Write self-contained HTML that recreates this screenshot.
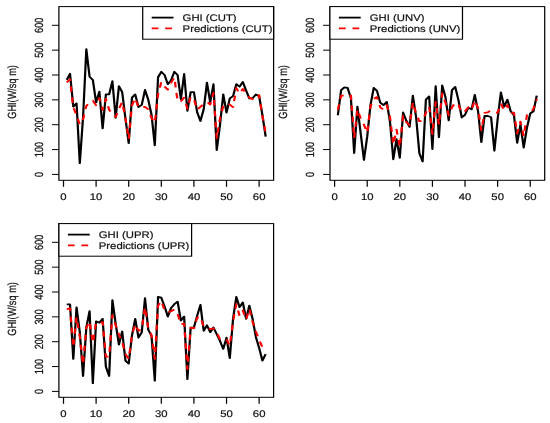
<!DOCTYPE html>
<html><head><meta charset="utf-8"><style>
html,body{margin:0;padding:0;background:#fff;}
svg{display:block;}
text{text-rendering:geometricPrecision;font-family:"Liberation Sans",Arial,sans-serif;font-size:9.6px;fill:#111;stroke:#111;stroke-width:0.2px;}
</style></head><body>
<svg width="550" height="423" viewBox="0 0 447.154 423" preserveAspectRatio="none">
<rect x="0" y="0" width="447.154" height="423" fill="#fff"/>
<rect x="47.89" y="6.60" width="174.55" height="173.70" fill="none" stroke="#000" stroke-width="1"/>
<line x1="42.28" y1="174.40" x2="47.89" y2="174.40" stroke="#000" stroke-width="1.0"/>
<text transform="translate(34.63,174.40) rotate(-90) scale(0.958,1)" text-anchor="middle">0</text>
<line x1="42.28" y1="149.55" x2="47.89" y2="149.55" stroke="#000" stroke-width="1.0"/>
<text transform="translate(34.63,149.55) rotate(-90) scale(0.958,1)" text-anchor="middle">100</text>
<line x1="42.28" y1="124.70" x2="47.89" y2="124.70" stroke="#000" stroke-width="1.0"/>
<text transform="translate(34.63,124.70) rotate(-90) scale(0.958,1)" text-anchor="middle">200</text>
<line x1="42.28" y1="99.85" x2="47.89" y2="99.85" stroke="#000" stroke-width="1.0"/>
<text transform="translate(34.63,99.85) rotate(-90) scale(0.958,1)" text-anchor="middle">300</text>
<line x1="42.28" y1="75.00" x2="47.89" y2="75.00" stroke="#000" stroke-width="1.0"/>
<text transform="translate(34.63,75.00) rotate(-90) scale(0.958,1)" text-anchor="middle">400</text>
<line x1="42.28" y1="50.15" x2="47.89" y2="50.15" stroke="#000" stroke-width="1.0"/>
<text transform="translate(34.63,50.15) rotate(-90) scale(0.958,1)" text-anchor="middle">500</text>
<line x1="42.28" y1="25.30" x2="47.89" y2="25.30" stroke="#000" stroke-width="1.0"/>
<text transform="translate(34.63,25.30) rotate(-90) scale(0.958,1)" text-anchor="middle">600</text>
<line x1="51.63" y1="180.30" x2="51.63" y2="186.80" stroke="#000" stroke-width="1.0"/>
<text transform="translate(51.63,199.80) scale(0.958,1)" text-anchor="middle">0</text>
<line x1="78.13" y1="180.30" x2="78.13" y2="186.80" stroke="#000" stroke-width="1.0"/>
<text transform="translate(78.13,199.80) scale(0.958,1)" text-anchor="middle">10</text>
<line x1="104.64" y1="180.30" x2="104.64" y2="186.80" stroke="#000" stroke-width="1.0"/>
<text transform="translate(104.64,199.80) scale(0.958,1)" text-anchor="middle">20</text>
<line x1="131.15" y1="180.30" x2="131.15" y2="186.80" stroke="#000" stroke-width="1.0"/>
<text transform="translate(131.15,199.80) scale(0.958,1)" text-anchor="middle">30</text>
<line x1="157.66" y1="180.30" x2="157.66" y2="186.80" stroke="#000" stroke-width="1.0"/>
<text transform="translate(157.66,199.80) scale(0.958,1)" text-anchor="middle">40</text>
<line x1="184.17" y1="180.30" x2="184.17" y2="186.80" stroke="#000" stroke-width="1.0"/>
<text transform="translate(184.17,199.80) scale(0.958,1)" text-anchor="middle">50</text>
<line x1="210.67" y1="180.30" x2="210.67" y2="186.80" stroke="#000" stroke-width="1.0"/>
<text transform="translate(210.67,199.80) scale(0.958,1)" text-anchor="middle">60</text>
<text transform="translate(13.25,91.95) rotate(-90) scale(0.958,1)" text-anchor="middle">GHI(W/sq m)</text>
<polyline points="54.28,79.97 56.93,73.76 59.58,106.56 62.23,103.33 64.88,163.22 67.53,117.25 70.18,49.16 72.83,76.74 75.48,79.97 78.13,102.34 80.78,91.65 83.44,128.43 86.09,94.38 88.74,94.38 91.39,81.21 94.04,117.74 96.69,86.18 99.34,92.15 101.99,118.49 104.64,143.09 107.29,97.61 109.94,94.38 112.59,107.06 115.25,104.82 117.90,89.91 120.55,99.85 123.20,114.76 125.85,145.33 128.50,77.24 131.15,71.77 133.80,75.00 136.45,84.19 139.10,80.22 141.75,71.77 144.40,75.00 147.06,99.10 149.71,74.01 152.36,110.78 155.01,92.15 157.66,92.15 160.31,112.28 162.96,120.97 165.61,109.29 168.26,82.70 170.91,102.34 173.56,84.19 176.21,150.05 178.87,124.70 181.52,94.38 184.17,112.52 186.82,98.36 189.47,96.12 192.12,84.19 194.77,86.68 197.42,81.96 200.07,90.41 202.72,98.36 205.37,98.36 208.02,94.38 210.67,96.12 213.33,114.76 215.98,136.63" fill="none" stroke="#000" stroke-width="1.8" stroke-linejoin="round"/>
<polyline points="54.28,82.46 56.93,79.47 59.58,107.31 62.23,115.26 64.88,124.45 67.53,119.23 70.18,106.06 72.83,102.09 75.48,100.60 78.13,105.32 80.78,98.11 83.44,109.79 86.09,98.86 88.74,109.79 91.39,113.77 94.04,117.00 96.69,109.04 99.34,102.09 101.99,118.49 104.64,139.11 107.29,105.32 109.94,98.11 112.59,107.55 115.25,107.31 117.90,106.81 120.55,109.29 123.20,117.99 125.85,122.71 128.50,94.38 131.15,81.96 133.80,86.68 136.45,89.66 139.10,82.70 141.75,77.48 144.40,101.34 147.06,101.34 149.71,97.61 152.36,108.55 155.01,96.62 157.66,99.10 160.31,109.79 162.96,106.81 165.61,103.83 168.26,101.84 170.91,104.57 173.56,92.89 176.21,138.37 178.87,118.49 181.52,106.06 184.17,103.08 186.82,104.57 189.47,107.06 192.12,88.17 194.77,93.64 197.42,88.92 200.07,93.64 202.72,97.61 205.37,99.10 208.02,99.85 210.67,95.13 213.33,116.25 215.98,132.90" fill="none" stroke="#f00" stroke-width="1.8" stroke-dasharray="5.5 5.5" stroke-linejoin="round"/>
<rect x="116.02" y="6.60" width="106.42" height="32.60" fill="#fff" stroke="#000" stroke-width="1"/>
<line x1="123.33" y1="17.60" x2="141.06" y2="17.60" stroke="#000" stroke-width="1.8"/>
<line x1="123.33" y1="28.40" x2="141.06" y2="28.40" stroke="#f00" stroke-width="1.8" stroke-dasharray="5.5 5.5"/>
<text transform="translate(148.46,21.20) scale(0.958,1)" text-anchor="start">GHI (CUT)</text>
<text transform="translate(148.46,32.00) scale(0.958,1)" text-anchor="start">Predictions (CUT)</text>
<rect x="268.29" y="6.60" width="174.55" height="173.70" fill="none" stroke="#000" stroke-width="1"/>
<line x1="262.68" y1="174.40" x2="268.29" y2="174.40" stroke="#000" stroke-width="1.0"/>
<text transform="translate(255.04,174.40) rotate(-90) scale(0.958,1)" text-anchor="middle">0</text>
<line x1="262.68" y1="149.55" x2="268.29" y2="149.55" stroke="#000" stroke-width="1.0"/>
<text transform="translate(255.04,149.55) rotate(-90) scale(0.958,1)" text-anchor="middle">100</text>
<line x1="262.68" y1="124.70" x2="268.29" y2="124.70" stroke="#000" stroke-width="1.0"/>
<text transform="translate(255.04,124.70) rotate(-90) scale(0.958,1)" text-anchor="middle">200</text>
<line x1="262.68" y1="99.85" x2="268.29" y2="99.85" stroke="#000" stroke-width="1.0"/>
<text transform="translate(255.04,99.85) rotate(-90) scale(0.958,1)" text-anchor="middle">300</text>
<line x1="262.68" y1="75.00" x2="268.29" y2="75.00" stroke="#000" stroke-width="1.0"/>
<text transform="translate(255.04,75.00) rotate(-90) scale(0.958,1)" text-anchor="middle">400</text>
<line x1="262.68" y1="50.15" x2="268.29" y2="50.15" stroke="#000" stroke-width="1.0"/>
<text transform="translate(255.04,50.15) rotate(-90) scale(0.958,1)" text-anchor="middle">500</text>
<line x1="262.68" y1="25.30" x2="268.29" y2="25.30" stroke="#000" stroke-width="1.0"/>
<text transform="translate(255.04,25.30) rotate(-90) scale(0.958,1)" text-anchor="middle">600</text>
<line x1="272.03" y1="180.30" x2="272.03" y2="186.80" stroke="#000" stroke-width="1.0"/>
<text transform="translate(272.03,199.80) scale(0.958,1)" text-anchor="middle">0</text>
<line x1="298.54" y1="180.30" x2="298.54" y2="186.80" stroke="#000" stroke-width="1.0"/>
<text transform="translate(298.54,199.80) scale(0.958,1)" text-anchor="middle">10</text>
<line x1="325.05" y1="180.30" x2="325.05" y2="186.80" stroke="#000" stroke-width="1.0"/>
<text transform="translate(325.05,199.80) scale(0.958,1)" text-anchor="middle">20</text>
<line x1="351.56" y1="180.30" x2="351.56" y2="186.80" stroke="#000" stroke-width="1.0"/>
<text transform="translate(351.56,199.80) scale(0.958,1)" text-anchor="middle">30</text>
<line x1="378.07" y1="180.30" x2="378.07" y2="186.80" stroke="#000" stroke-width="1.0"/>
<text transform="translate(378.07,199.80) scale(0.958,1)" text-anchor="middle">40</text>
<line x1="404.57" y1="180.30" x2="404.57" y2="186.80" stroke="#000" stroke-width="1.0"/>
<text transform="translate(404.57,199.80) scale(0.958,1)" text-anchor="middle">50</text>
<line x1="431.08" y1="180.30" x2="431.08" y2="186.80" stroke="#000" stroke-width="1.0"/>
<text transform="translate(431.08,199.80) scale(0.958,1)" text-anchor="middle">60</text>
<text transform="translate(233.66,91.95) rotate(-90) scale(0.958,1)" text-anchor="middle">GHI(W/sq m)</text>
<polyline points="274.68,115.26 277.33,90.16 279.98,87.43 282.64,87.92 285.29,98.11 287.94,153.03 290.59,106.56 293.24,133.40 295.89,159.99 298.54,136.63 301.19,105.07 303.84,87.92 306.49,90.90 309.14,102.58 311.79,105.07 314.45,101.84 317.10,122.22 319.75,159.24 322.40,139.11 325.05,157.75 327.70,112.52 330.35,120.72 333.00,126.94 335.65,95.63 338.30,117.25 340.95,153.28 343.60,161.48 346.26,99.60 348.91,96.37 351.56,149.05 354.21,86.18 356.86,137.12 359.51,85.44 362.16,97.12 364.81,120.48 367.46,90.16 370.11,86.93 372.76,100.35 375.41,117.49 378.07,114.76 380.72,107.80 383.37,109.29 386.02,94.88 388.67,111.28 391.32,142.09 393.97,116.00 396.62,116.00 399.27,117.25 401.92,150.79 404.57,119.23 407.22,92.40 409.87,106.56 412.53,99.60 415.18,111.28 417.83,115.26 420.48,142.84 423.13,124.70 425.78,147.56 428.43,127.68 431.08,113.52 433.73,111.28 436.38,95.63" fill="none" stroke="#000" stroke-width="1.8" stroke-linejoin="round"/>
<polyline points="274.68,109.79 277.33,95.63 279.98,95.63 282.64,94.13 285.29,95.63 287.94,138.12 290.59,109.29 293.24,118.49 295.89,124.70 298.54,132.65 301.19,106.56 303.84,98.86 306.49,97.12 309.14,107.31 311.79,109.79 314.45,105.07 317.10,117.00 319.75,144.58 322.40,129.67 325.05,147.06 327.70,116.00 330.35,122.22 333.00,125.20 335.65,102.34 338.30,113.52 340.95,121.22 343.60,120.97 346.26,112.77 348.91,106.56 351.56,134.14 354.21,101.84 356.86,124.70 359.51,93.39 362.16,102.58 364.81,115.26 367.46,107.31 370.11,102.58 372.76,105.07 375.41,112.77 378.07,111.28 380.72,107.31 383.37,109.79 386.02,100.35 388.67,108.05 391.32,130.17 393.97,112.77 396.62,112.28 399.27,110.54 401.92,112.03 404.57,112.77 407.22,103.58 409.87,110.54 412.53,105.07 415.18,112.77 417.83,112.77 420.48,133.40 423.13,121.72 425.78,136.13 428.43,115.01 431.08,113.52 433.73,108.80 436.38,98.86" fill="none" stroke="#f00" stroke-width="1.8" stroke-dasharray="5.5 5.5" stroke-linejoin="round"/>
<rect x="268.21" y="6.60" width="107.80" height="32.60" fill="#fff" stroke="#000" stroke-width="1"/>
<line x1="275.53" y1="17.60" x2="293.25" y2="17.60" stroke="#000" stroke-width="1.8"/>
<line x1="275.53" y1="28.40" x2="293.25" y2="28.40" stroke="#f00" stroke-width="1.8" stroke-dasharray="5.5 5.5"/>
<text transform="translate(300.65,21.20) scale(0.958,1)" text-anchor="start">GHI (UNV)</text>
<text transform="translate(300.65,32.00) scale(0.958,1)" text-anchor="start">Predictions (UNV)</text>
<rect x="47.89" y="223.60" width="174.55" height="173.70" fill="none" stroke="#000" stroke-width="1"/>
<line x1="42.28" y1="391.40" x2="47.89" y2="391.40" stroke="#000" stroke-width="1.0"/>
<text transform="translate(34.63,391.40) rotate(-90) scale(0.958,1)" text-anchor="middle">0</text>
<line x1="42.28" y1="366.55" x2="47.89" y2="366.55" stroke="#000" stroke-width="1.0"/>
<text transform="translate(34.63,366.55) rotate(-90) scale(0.958,1)" text-anchor="middle">100</text>
<line x1="42.28" y1="341.70" x2="47.89" y2="341.70" stroke="#000" stroke-width="1.0"/>
<text transform="translate(34.63,341.70) rotate(-90) scale(0.958,1)" text-anchor="middle">200</text>
<line x1="42.28" y1="316.85" x2="47.89" y2="316.85" stroke="#000" stroke-width="1.0"/>
<text transform="translate(34.63,316.85) rotate(-90) scale(0.958,1)" text-anchor="middle">300</text>
<line x1="42.28" y1="292.00" x2="47.89" y2="292.00" stroke="#000" stroke-width="1.0"/>
<text transform="translate(34.63,292.00) rotate(-90) scale(0.958,1)" text-anchor="middle">400</text>
<line x1="42.28" y1="267.15" x2="47.89" y2="267.15" stroke="#000" stroke-width="1.0"/>
<text transform="translate(34.63,267.15) rotate(-90) scale(0.958,1)" text-anchor="middle">500</text>
<line x1="42.28" y1="242.30" x2="47.89" y2="242.30" stroke="#000" stroke-width="1.0"/>
<text transform="translate(34.63,242.30) rotate(-90) scale(0.958,1)" text-anchor="middle">600</text>
<line x1="51.63" y1="397.30" x2="51.63" y2="403.80" stroke="#000" stroke-width="1.0"/>
<text transform="translate(51.63,416.80) scale(0.958,1)" text-anchor="middle">0</text>
<line x1="78.13" y1="397.30" x2="78.13" y2="403.80" stroke="#000" stroke-width="1.0"/>
<text transform="translate(78.13,416.80) scale(0.958,1)" text-anchor="middle">10</text>
<line x1="104.64" y1="397.30" x2="104.64" y2="403.80" stroke="#000" stroke-width="1.0"/>
<text transform="translate(104.64,416.80) scale(0.958,1)" text-anchor="middle">20</text>
<line x1="131.15" y1="397.30" x2="131.15" y2="403.80" stroke="#000" stroke-width="1.0"/>
<text transform="translate(131.15,416.80) scale(0.958,1)" text-anchor="middle">30</text>
<line x1="157.66" y1="397.30" x2="157.66" y2="403.80" stroke="#000" stroke-width="1.0"/>
<text transform="translate(157.66,416.80) scale(0.958,1)" text-anchor="middle">40</text>
<line x1="184.17" y1="397.30" x2="184.17" y2="403.80" stroke="#000" stroke-width="1.0"/>
<text transform="translate(184.17,416.80) scale(0.958,1)" text-anchor="middle">50</text>
<line x1="210.67" y1="397.30" x2="210.67" y2="403.80" stroke="#000" stroke-width="1.0"/>
<text transform="translate(210.67,416.80) scale(0.958,1)" text-anchor="middle">60</text>
<text transform="translate(13.25,308.95) rotate(-90) scale(0.958,1)" text-anchor="middle">GHI(W/sq m)</text>
<polyline points="54.28,304.42 56.93,304.42 59.58,358.85 62.23,307.41 64.88,332.26 67.53,375.99 70.18,327.54 72.83,311.13 75.48,383.20 78.13,321.32 80.78,322.81 83.44,318.84 86.09,366.80 88.74,375.99 91.39,300.20 94.04,323.56 96.69,344.68 99.34,331.51 101.99,360.59 104.64,363.57 107.29,335.49 109.94,318.84 112.59,337.72 115.25,332.26 117.90,298.21 120.55,329.77 123.20,335.98 125.85,380.71 128.50,296.97 131.15,297.72 133.80,306.41 136.45,316.60 139.10,307.90 141.75,304.18 144.40,301.69 147.06,320.58 149.71,316.60 152.36,379.22 155.01,327.54 157.66,327.54 160.31,315.61 162.96,304.92 165.61,330.77 168.26,325.30 170.91,332.26 173.56,327.54 176.21,334.25 178.87,340.95 181.52,348.91 184.17,337.72 186.82,358.10 189.47,318.84 192.12,296.97 194.77,307.16 197.42,302.44 200.07,318.84 202.72,305.67 205.37,318.84 208.02,336.98 210.67,347.91 213.33,360.59 215.98,354.12" fill="none" stroke="#000" stroke-width="1.8" stroke-linejoin="round"/>
<polyline points="54.28,309.15 56.93,308.40 59.58,347.17 62.23,317.35 64.88,336.98 67.53,364.31 70.18,327.54 72.83,321.32 75.48,342.94 78.13,322.07 80.78,322.81 83.44,322.07 86.09,356.61 88.74,356.61 91.39,315.11 94.04,325.30 96.69,334.49 99.34,341.70 101.99,354.12 104.64,358.85 107.29,335.24 109.94,324.30 112.59,330.77 115.25,329.27 117.90,307.16 120.55,328.28 123.20,335.24 125.85,358.85 128.50,305.67 131.15,300.95 133.80,310.39 136.45,312.63 139.10,311.13 141.75,309.39 144.40,313.62 147.06,324.30 149.71,323.56 152.36,369.03 155.01,327.54 157.66,328.28 160.31,317.60 162.96,316.60 165.61,326.79 168.26,327.54 170.91,329.03 173.56,328.28 176.21,333.00 178.87,339.21 181.52,339.96 184.17,339.21 186.82,345.68 189.47,321.32 192.12,304.18 194.77,315.86 197.42,310.39 200.07,319.58 202.72,308.90 205.37,322.07 208.02,331.51 210.67,339.96 213.33,347.17 215.98,348.91" fill="none" stroke="#f00" stroke-width="1.8" stroke-dasharray="5.5 5.5" stroke-linejoin="round"/>
<rect x="47.89" y="223.60" width="107.89" height="32.60" fill="#fff" stroke="#000" stroke-width="1"/>
<line x1="55.20" y1="234.60" x2="72.93" y2="234.60" stroke="#000" stroke-width="1.8"/>
<line x1="55.20" y1="245.40" x2="72.93" y2="245.40" stroke="#f00" stroke-width="1.8" stroke-dasharray="5.5 5.5"/>
<text transform="translate(80.33,238.20) scale(0.958,1)" text-anchor="start">GHI (UPR)</text>
<text transform="translate(80.33,249.00) scale(0.958,1)" text-anchor="start">Predictions (UPR)</text>
</svg>
</body></html>
